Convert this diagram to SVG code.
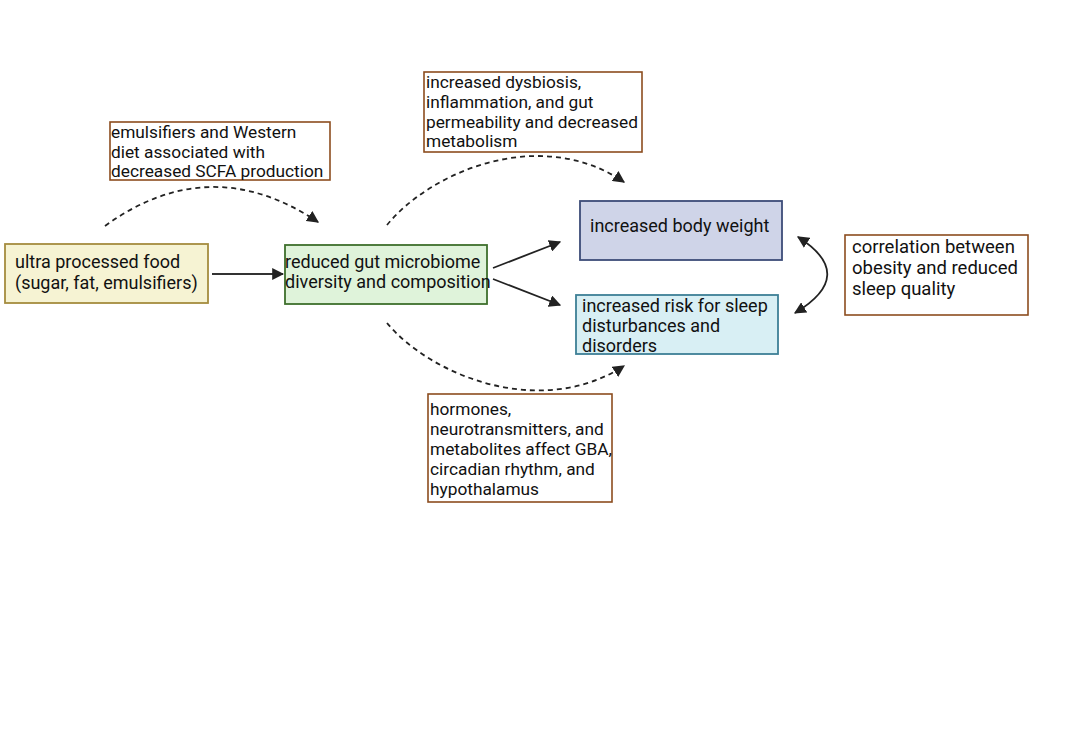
<svg xmlns="http://www.w3.org/2000/svg" width="1068" height="748" viewBox="0 0 1068 748">
<defs>
<style>
text{font-family:Roboto,"Liberation Sans",sans-serif;fill:#111;}
.n{font-size:18px;}
.l{font-size:17.3px;}
.lab{fill:#fff;stroke:#8c4d1f;stroke-width:1.6;}
.c{fill:none;stroke:#222;stroke-width:1.8;}
.d{fill:none;stroke:#222;stroke-width:1.8;stroke-dasharray:5,4;}
</style>
<marker id="ahs" viewBox="0 0 10 10" refX="9" refY="5" markerWidth="12" markerHeight="12" markerUnits="userSpaceOnUse" orient="auto-start-reverse"><path d="M0,0L10,5L0,10z" fill="#222"/></marker>
</defs>
<g id="connectors">
<line x1="212" y1="274" x2="283" y2="274" stroke="#333" stroke-width="1.8" marker-end="url(#ahs)"/>
<path class="c" d="M493,268 L560,242" marker-end="url(#ahs)"/>
<path class="c" d="M493,279 L560,305" marker-end="url(#ahs)"/>
<path class="c" d="M798,237 Q858,275 795,313" marker-start="url(#ahs)" marker-end="url(#ahs)"/>
<path class="d" d="M105,226 Q210,150 318,222" marker-end="url(#ahs)"/>
<path class="d" d="M387,225 C430,172 540,125 624,182" marker-end="url(#ahs)"/>
<path class="d" d="M387,323 C430,375 540,420 624,366" marker-end="url(#ahs)"/>
</g>
<g id="n-food">
<rect x="5" y="244" width="203" height="59" fill="#f6f3d3" stroke="#a58c3f" stroke-width="1.8"/>
<text class="n" x="15" y="268">ultra processed food</text>
<text class="n" x="15" y="289">(sugar, fat, emulsifiers)</text>
</g>
<g id="n-gut">
<rect x="285" y="245" width="202" height="59" fill="#dff3da" stroke="#3e6f2c" stroke-width="1.8"/>
<text class="n" x="285" y="268">reduced gut microbiome</text>
<text class="n" x="285" y="288">diversity and composition</text>
</g>
<g id="n-weight">
<rect x="580" y="201" width="202" height="59" fill="#cfd4e8" stroke="#3c4c78" stroke-width="1.8"/>
<text class="n" x="590" y="232">increased body weight</text>
</g>
<g id="n-sleep">
<rect x="576" y="295" width="202" height="59" fill="#d8eff4" stroke="#3d7f96" stroke-width="1.8"/>
<text class="n" x="582" y="312">increased risk for sleep</text>
<text class="n" x="582" y="332">disturbances and</text>
<text class="n" x="582" y="352">disorders</text>
</g>
<g id="l-emuls">
<rect class="lab" x="110" y="122" width="220" height="58"/>
<text class="l" x="111" y="138">emulsifiers and Western</text>
<text class="l" x="111" y="158">diet associated with</text>
<text class="l" x="111" y="177">decreased SCFA production</text>
</g>
<g id="l-dysb">
<rect class="lab" x="424" y="72" width="218" height="80"/>
<text class="l" x="426" y="88">increased dysbiosis,</text>
<text class="l" x="426" y="108">inflammation, and gut</text>
<text class="l" x="426" y="128">permeability and decreased</text>
<text class="l" x="426" y="147">metabolism</text>
</g>
<g id="l-corr">
<rect class="lab" x="845" y="235" width="183" height="80"/>
<text class="n" x="852" y="253" style="font-size:18.5px">correlation between</text>
<text class="n" x="852" y="274" style="font-size:18.5px">obesity and reduced</text>
<text class="n" x="852" y="295" style="font-size:18.5px">sleep quality</text>
</g>
<g id="l-horm">
<rect class="lab" x="428" y="394" width="184" height="108"/>
<text class="l" x="430" y="415">hormones,</text>
<text class="l" x="430" y="435">neurotransmitters, and</text>
<text class="l" x="430" y="455">metabolites affect GBA,</text>
<text class="l" x="430" y="475">circadian rhythm, and</text>
<text class="l" x="430" y="495">hypothalamus</text>
</g>
</svg>
